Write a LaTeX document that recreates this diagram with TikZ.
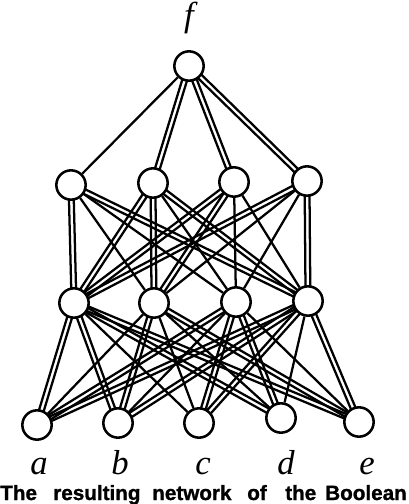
\documentclass[tikz,border=0pt]{standalone}
\usepackage{fontspec}
\newfontfamily\capfont{Liberation Sans}[BoldFeatures={FakeBold=1.2}]
\newfontfamily\labfont{Liberation Serif}
\usetikzlibrary{calc,backgrounds}
\tikzset{
  neuron/.style={circle,draw=black,fill=white,line width=1.9pt,minimum size=22pt,inner sep=0pt},
  edge/.style={draw=black,line width=1.7pt},
  varlabel/.style={anchor=base,inner sep=0pt,font=\labfont\itshape\fontsize{26}{28}\selectfont},
  capword/.style={anchor=base west,inner sep=0pt,font=\capfont\bfseries\fontsize{15.5}{17}\selectfont}
}
\newcommand{\onee}[2]{\draw[edge] (#1) -- (#2);}
\newcommand{\twoe}[2]{%
  \draw[edge] ($(#1)!1.8pt!90:(#2)$) -- ($(#2)!1.8pt!-90:(#1)$);%
  \draw[edge] ($(#1)!1.8pt!-90:(#2)$) -- ($(#2)!1.8pt!90:(#1)$);}
\begin{document}
\begin{tikzpicture}[x=0.75pt,y=-0.75pt]
\useasboundingbox (0,0) rectangle (408,504);
% nodes
\node[neuron] (f) at (189,66) {};
\node[neuron] (u1) at (71,185) {};
\node[neuron] (u2) at (153,183) {};
\node[neuron] (u3) at (234,182) {};
\node[neuron] (u4) at (307,181) {};
\node[neuron] (v1) at (74,303) {};
\node[neuron] (v2) at (154,303) {};
\node[neuron] (v3) at (236,302) {};
\node[neuron] (v4) at (308,301) {};
\node[neuron] (a) at (37,425) {};
\node[neuron] (b) at (118,423) {};
\node[neuron] (c) at (199,423) {};
\node[neuron] (d) at (281,418) {};
\node[neuron] (e) at (359,422) {};
% labels
\node[varlabel] (lf) at (189,26) {f};
\node[varlabel] (la) at (39,474) {a};
\node[varlabel] (lb) at (120,474) {b};
\node[varlabel] (lc) at (203,474) {c};
\node[varlabel] (ld) at (286,474) {d};
\node[varlabel] (le) at (367,474) {e};
% caption
\node[capword] (w1) at (0,500) {The};
\node[capword] (w2) at (53,500) {resulting};
\node[capword] (w3) at (152,500) {network};
\node[capword] (w4) at (247,500) {of};
\node[capword] (w5) at (285,500) {the};
\node[capword] (w6) at (325,500) {Boolean};
\begin{pgfonlayer}{background}
\fill[white] (0,0) rectangle (408,504);
% f to layer 2
\onee{f}{u1} \twoe{f}{u2} \twoe{f}{u3} \twoe{f}{u4}
% layer 2 to layer 3
\twoe{u1}{v1} \onee{u1}{v2} \onee{u1}{v3} \twoe{u1}{v4}
\twoe{u2}{v1} \twoe{u2}{v2} \onee{u2}{v3} \twoe{u2}{v4}
\twoe{u3}{v1} \twoe{u3}{v2} \onee{u3}{v3} \onee{u3}{v4}
\twoe{u4}{v1} \onee{u4}{v2} \onee{u4}{v3} \twoe{u4}{v4}
% layer 3 to inputs
\twoe{v1}{a} \twoe{v1}{b} \onee{v1}{c} \twoe{v1}{d} \twoe{v1}{e}
\onee{v2}{a} \twoe{v2}{b} \onee{v2}{c} \onee{v2}{d} \twoe{v2}{e}
\twoe{v3}{a} \onee{v3}{b} \twoe{v3}{c} \twoe{v3}{d} \onee{v3}{e}
\twoe{v4}{a} \twoe{v4}{b} \twoe{v4}{c} \onee{v4}{d} \twoe{v4}{e}
\end{pgfonlayer}
\end{tikzpicture}
\end{document}
